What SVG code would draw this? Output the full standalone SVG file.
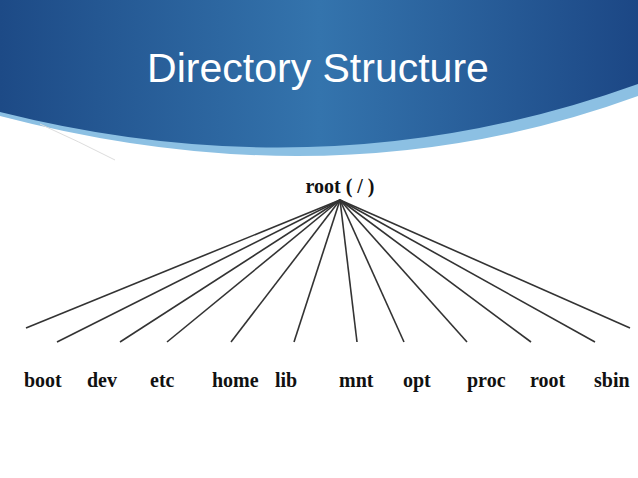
<svg xmlns="http://www.w3.org/2000/svg" width="638" height="478" viewBox="0 0 638 478">
<defs>
<linearGradient id="bg" x1="0" y1="0" x2="1" y2="0">
<stop offset="0" stop-color="#1d4a86"/><stop offset="0.5" stop-color="#3474ad"/><stop offset="1" stop-color="#1c4785"/>
</linearGradient>
<style>
.c{stroke:#333;stroke-width:1.6;fill:none}
.l{font-family:"Liberation Serif",serif;font-weight:bold;font-size:20px;fill:#111}
</style>
</defs>
<rect width="638" height="478" fill="#fff"/>
<path d="M0,0 H638 V96 Q340,205 0,116 Z" fill="#8cc0e3"/>
<path d="M0,0 H638 V84 Q330,195 0,112 Z" fill="url(#bg)"/>
<path d="M40,124 Q80,142 115,160" stroke="#ddd" fill="none"/>
<text x="318" y="82" text-anchor="middle" font-family="Liberation Sans,sans-serif" font-size="41" fill="#fff">Directory Structure</text>
<g id="connectors">
<line class="c" x1="340" y1="200" x2="26" y2="328"/>
<line class="c" x1="340" y1="200" x2="57" y2="342"/>
<line class="c" x1="340" y1="200" x2="120" y2="342"/>
<line class="c" x1="340" y1="200" x2="167" y2="342"/>
<line class="c" x1="340" y1="200" x2="231" y2="342"/>
<line class="c" x1="340" y1="200" x2="294" y2="342"/>
<line class="c" x1="340" y1="200" x2="357" y2="342"/>
<line class="c" x1="340" y1="200" x2="404" y2="342"/>
<line class="c" x1="340" y1="200" x2="467" y2="342"/>
<line class="c" x1="340" y1="200" x2="531" y2="342"/>
<line class="c" x1="340" y1="200" x2="595" y2="342"/>
<line class="c" x1="340" y1="200" x2="630" y2="328"/>
</g>
<g id="root"><text class="l" x="340" y="193" text-anchor="middle" font-size="18">root ( / )</text></g>
<g id="boot"><text class="l" x="24" y="387">boot</text></g>
<g id="dev"><text class="l" x="87" y="387">dev</text></g>
<g id="etc"><text class="l" x="150" y="387">etc</text></g>
<g id="home"><text class="l" x="212" y="387">home</text></g>
<g id="lib"><text class="l" x="275" y="387">lib</text></g>
<g id="mnt"><text class="l" x="339" y="387">mnt</text></g>
<g id="opt"><text class="l" x="403" y="387">opt</text></g>
<g id="proc"><text class="l" x="467" y="387">proc</text></g>
<g id="root2"><text class="l" x="530" y="387">root</text></g>
<g id="sbin"><text class="l" x="594" y="387">sbin</text></g>
</svg>
